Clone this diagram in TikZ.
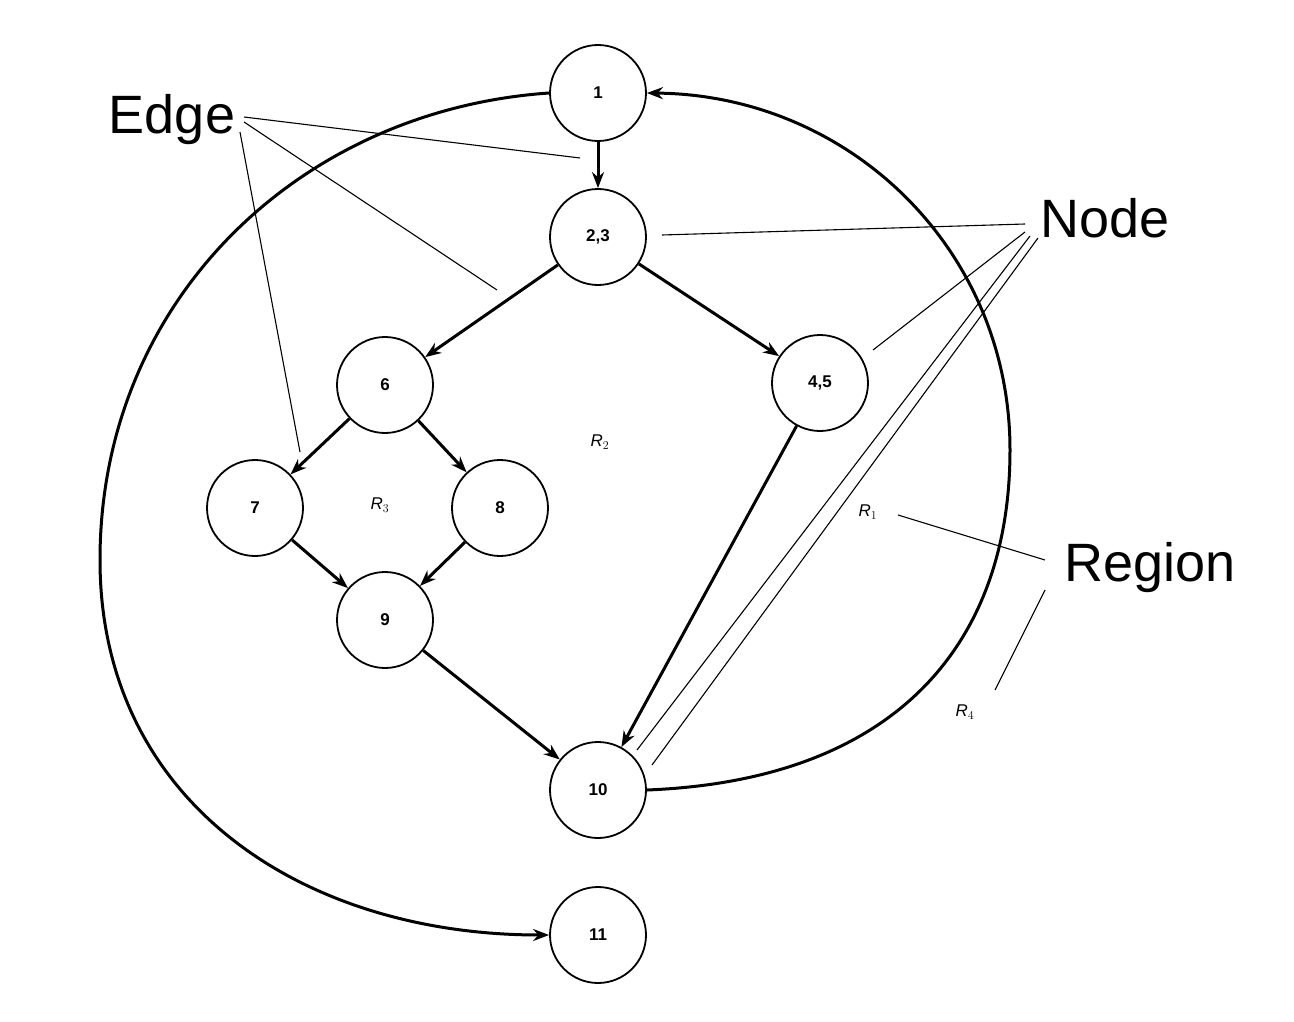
\documentclass[tikz,border=0pt]{standalone}
\usepackage{fontspec}
\setmainfont{Liberation Sans}
\usetikzlibrary{arrows.meta}
\begin{document}
\begin{tikzpicture}[x=1pt,y=-1pt,
  nd/.style={circle,draw,line width=1.8pt,minimum size=96pt,inner sep=0pt,font=\fontsize{17}{17}\selectfont\bfseries},
  ed/.style={line width=3pt,-{Stealth[length=16pt,width=12pt]}},
  ptr/.style={line width=1.1pt},
  big/.style={font=\fontsize{54}{54}\selectfont},
  rg/.style={font=\fontsize{17}{17}\selectfont\itshape}]
\useasboundingbox (0,0) rectangle (1294,1022);
\node[nd] (n1) at (598,93) {1};
\node[nd] (n23) at (598,237) {2,3};
\node[nd] (n6) at (385,385) {6};
\node[nd] (n45) at (820,383) {4,5};
\node[nd] (n7) at (255,508) {7};
\node[nd] (n8) at (500,508) {8};
\node[nd] (n9) at (385,620) {9};
\node[nd] (n10) at (598,790) {10};
\node[nd] (n11) at (598,935) {11};
\draw[ed] (n1) -- (n23);
\draw[ed] (n23) -- (n6);
\draw[ed] (n23) -- (n45);
\draw[ed] (n6) -- (n7);
\draw[ed] (n6) -- (n8);
\draw[ed] (n7) -- (n9);
\draw[ed] (n8) -- (n9);
\draw[ed] (n9) -- (n10);
\draw[ed] (n45) -- (n10);
\draw[ed] (n10.east) .. controls (900,780) and (1010,640) .. (1010,450) .. controls (1010,250) and (850,95) .. (n1.east);
\draw[ed] (n1.west) .. controls (300,110) and (100,300) .. (100,560) .. controls (100,800) and (300,935) .. (n11.west);
\node[big] (edge) at (172,120) {Edge};
\node[big] (node) at (1105,218) {Node};
\node[big] (region) at (1150,568) {Region};
\node[rg] (r1) at (868,512) {R$_1$};
\node[rg] (r2) at (600,442) {R$_2$};
\node[rg] (r3) at (380,505) {R$_3$};
\node[rg] (r4) at (965,712) {R$_4$};
\coordinate (e1) at (580,158);
\coordinate (e2) at (497,290);
\coordinate (e3) at (300,452);
\coordinate (k1) at (662,235);
\coordinate (k2) at (873,350);
\coordinate (k3) at (637,750);
\coordinate (k4) at (652,765);
\coordinate (g1) at (898,515);
\coordinate (g2) at (995,690);
\draw[ptr] (244,117) -- (e1);
\draw[ptr] (244,122) -- (e2);
\draw[ptr] (240,132) -- (e3);
\draw[ptr] (1025,224) -- (k1);
\draw[ptr] (1025,232) -- (k2);
\draw[ptr] (1030,236) -- (k3);
\draw[ptr] (1038,238) -- (k4);
\draw[ptr] (1045,560) -- (g1);
\draw[ptr] (1045,590) -- (g2);
\end{tikzpicture}
\end{document}
